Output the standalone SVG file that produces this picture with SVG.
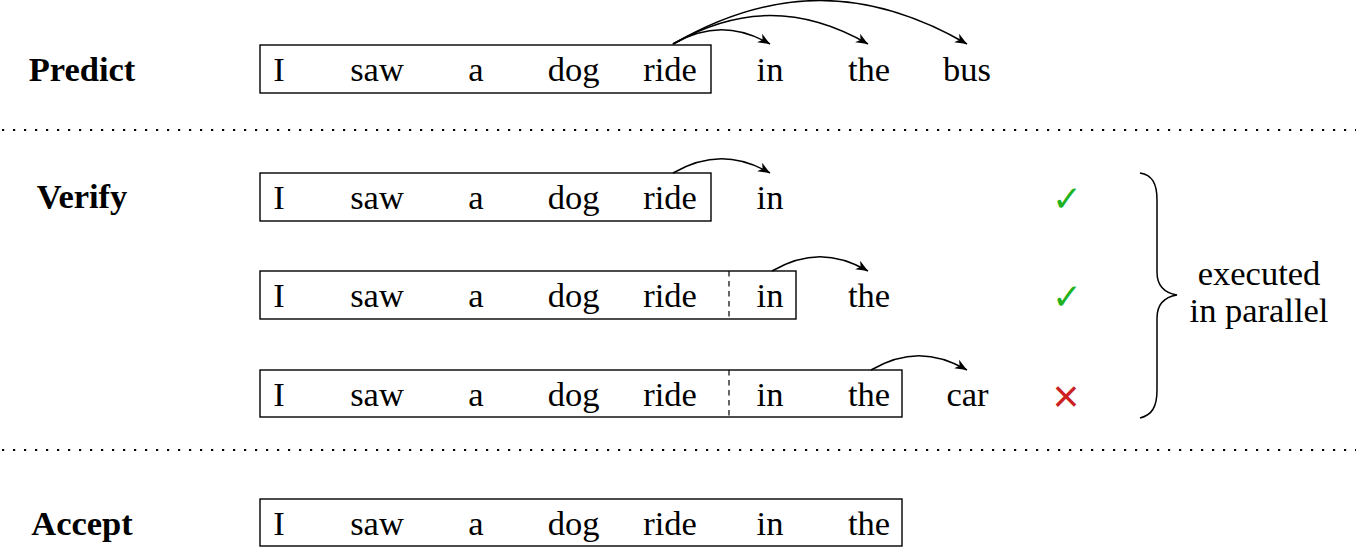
<svg xmlns="http://www.w3.org/2000/svg" width="1356" height="548" viewBox="0 0 1356 548">
<defs>
<style>
text{font-family:"Liberation Serif","Times New Roman",serif;font-size:34.5px;fill:#000}
.lbl{font-weight:bold;text-anchor:middle}
.w{text-anchor:middle}
.box{fill:none;stroke:#000;stroke-width:1.4}
.dash{stroke:#000;stroke-width:1.2;stroke-dasharray:5.5 4.5}
.sep{stroke:#000;stroke-width:2.2;stroke-dasharray:2.2 8.8}
.arc{fill:none;stroke:#000;stroke-width:1.5;marker-end:url(#ah)}
.ok{font-family:"DejaVu Sans",sans-serif;font-size:36px;fill:#1fb31f;text-anchor:middle}
.no{font-family:"Liberation Sans",sans-serif;font-size:46px;fill:#cc2222;text-anchor:middle}
</style>
<marker id="ah" markerUnits="userSpaceOnUse" markerWidth="14" markerHeight="12" refX="12" refY="5" orient="auto" viewBox="0 0 14 10">
<path d="M0,0 L12,5 L0,10 L3.5,5 z" fill="#000"/>
</marker>
</defs>
<rect width="1356" height="548" fill="#fff"/>

<g id="separators">
<line class="sep" x1="2" y1="130" x2="1356" y2="130"/>
<line class="sep" x1="2" y1="450" x2="1356" y2="450"/>
</g>

<g id="label-predict"><text class="lbl" x="82" y="81">Predict</text></g>
<g id="label-verify"><text class="lbl" x="82" y="208">Verify</text></g>
<g id="label-accept"><text class="lbl" x="82" y="535">Accept</text></g>

<g id="row-predict">
<rect class="box" x="260" y="45" width="451" height="48"/>
<text class="w" x="279" y="81">I</text>
<text class="w" x="377" y="81">saw</text>
<text class="w" x="476" y="81">a</text>
<text class="w" x="573.5" y="81">dog</text>
<text class="w" x="670" y="81">ride</text>
<text class="w" x="770" y="81">in</text>
<text class="w" x="869" y="81">the</text>
<text class="w" x="967" y="81">bus</text>
</g>

<g id="row-verify-1">
<rect class="box" x="260" y="173" width="451" height="48"/>
<text class="w" x="279" y="209">I</text>
<text class="w" x="377" y="209">saw</text>
<text class="w" x="476" y="209">a</text>
<text class="w" x="573.5" y="209">dog</text>
<text class="w" x="670" y="209">ride</text>
<text class="w" x="770" y="209">in</text>
</g>

<g id="row-verify-2">
<rect class="box" x="260" y="271" width="536" height="48"/>
<line class="dash" x1="729" y1="271" x2="729" y2="319"/>
<text class="w" x="279" y="307">I</text>
<text class="w" x="377" y="307">saw</text>
<text class="w" x="476" y="307">a</text>
<text class="w" x="573.5" y="307">dog</text>
<text class="w" x="670" y="307">ride</text>
<text class="w" x="770" y="307">in</text>
<text class="w" x="869" y="307">the</text>
</g>

<g id="row-verify-3">
<rect class="box" x="260" y="370" width="642" height="47"/>
<line class="dash" x1="729" y1="370" x2="729" y2="417"/>
<text class="w" x="279" y="406">I</text>
<text class="w" x="377" y="406">saw</text>
<text class="w" x="476" y="406">a</text>
<text class="w" x="573.5" y="406">dog</text>
<text class="w" x="670" y="406">ride</text>
<text class="w" x="770" y="406">in</text>
<text class="w" x="869" y="406">the</text>
<text class="w" x="967.5" y="406">car</text>
</g>

<g id="row-accept">
<rect class="box" x="260" y="499" width="642" height="47"/>
<text class="w" x="279" y="535">I</text>
<text class="w" x="377" y="535">saw</text>
<text class="w" x="476" y="535">a</text>
<text class="w" x="573.5" y="535">dog</text>
<text class="w" x="670" y="535">ride</text>
<text class="w" x="770" y="535">in</text>
<text class="w" x="869" y="535">the</text>
</g>

<g id="marks">
<text class="ok" x="1067" y="211">✓</text>
<text class="ok" x="1067" y="309">✓</text>
<text class="no" x="1066" y="412">×</text>
</g>

<g id="brace-note">
<path d="M1140,173 C1152,175 1157,183 1157,200 L1157,272 C1157,286 1165,293 1177,295 C1165,297 1157,304 1157,318 L1157,390 C1157,407 1152,415 1140,418" fill="none" stroke="#000" stroke-width="1.5"/>
<text class="w" x="1259" y="285">executed</text>
<text class="w" x="1259" y="322">in parallel</text>
</g>

<g id="connectors">
<path class="arc" d="M673,44 C706,25 737,25 770,44"/>
<path class="arc" d="M673,44 C739,6 802,6 868,44"/>
<path class="arc" d="M673,44 C773,-14 867,-14 967,44"/>
<path class="arc" d="M673,173 C706,154 737,154 770,173"/>
<path class="arc" d="M772,271 C805,252 835,252 868,271"/>
<path class="arc" d="M871,370 C904,351 934,351 967,370"/>
</g>
</svg>
